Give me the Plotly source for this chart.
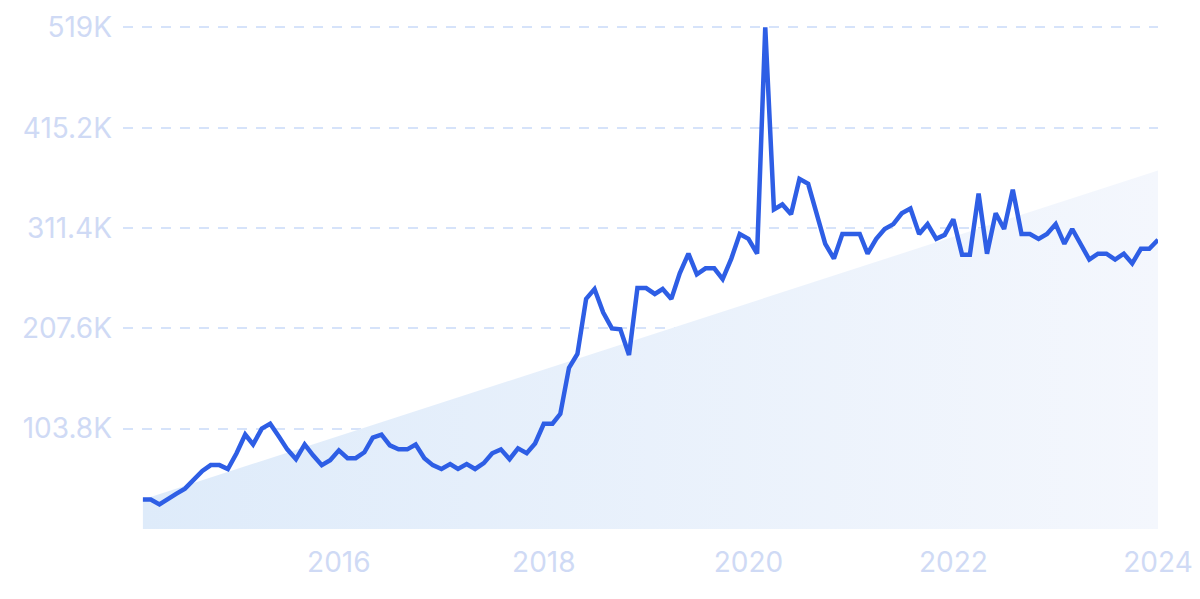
import plotly.graph_objects as go
import pandas as pd

# monthly values, Feb 2014 .. Jan 2024
months = pd.date_range("2014-02-01", "2024-01-01", freq="MS")
values = [
    30.5, 30.5, 25.4, 31.5, 36.6, 41.7, 50.9, 60.0, 66.1, 66.1, 62.1, 78.4,
    97.7, 87.5, 103.8, 108.9, 95.7, 82.4, 72.3, 87.5, 76.3, 66.1, 71.2, 81.4,
    73.3, 73.3, 79.4, 94.6, 97.7, 86.5, 82.4, 82.4, 87.5, 73.3, 66.1, 62.1,
    67.2, 62.1, 67.2, 62.1, 68.2, 78.4, 82.4, 72.3, 83.4, 78.4, 88.5, 108.9,
    108.9, 119.1, 166.9, 181.1, 238.1, 248.3, 223.9, 207.6, 206.6, 180.1, 249.3, 249.3,
    243.2, 248.3, 238.1, 264.6, 284.9, 263.6, 269.7, 269.7, 258.5, 279.8, 305.3, 300.2,
    284.9, 519.0, 330.7, 335.8, 325.6, 362.3, 357.2, 325.6, 295.1, 279.8, 305.3, 305.3,
    305.3, 284.9, 300.2, 310.4, 315.5, 326.7, 331.7, 305.3, 315.5, 300.2, 304.3, 320.5,
    283.9, 283.9, 347.0, 284.9, 326.7, 310.4, 351.1, 305.3, 305.3, 300.2, 305.3, 315.5,
    295.1, 310.4, 295.1, 278.8, 284.9, 284.9, 278.8, 284.9, 274.8, 290.0, 290.0, 299.2,
]
values = [v * 1000 for v in values]

# trend band: start and end of the shaded area
trend_dates = ["2014-02-01", "2024-01-01"]
trend_values = [30500, 371000]

y_ticks = [103800, 207600, 311400, 415200, 519000]
y_labels = ["103.8K", "207.6K", "311.4K", "415.2K", "519K"]
x_ticks = ["2016-01-01", "2018-01-01", "2020-01-01", "2022-01-01", "2024-01-01"]
x_labels = ["2016", "2018", "2020", "2022", "2024"]

label_color = "#cfdaf5"
font_family = "Inter, 'Noto Sans', sans-serif"

fig = go.Figure()

fig.add_trace(go.Scatter(
    x=trend_dates, y=trend_values,
    mode="lines", line=dict(width=0),
    fill="tozeroy",
    fillgradient=dict(
        type="horizontal",
        colorscale=[[0, "rgba(222,235,250,1)"], [1, "rgba(244,247,253,1)"]],
    ),
    hoverinfo="skip", showlegend=False,
))

fig.add_trace(go.Scatter(
    x=months, y=values,
    mode="lines",
    line=dict(color="#2e5ee5", width=4.5, shape="linear"),
    showlegend=False,
))

# page body adds an 8px margin, so the figure is sized to fit inside it
fig.update_layout(
    width=1184, height=583,
    margin=dict(l=115, r=34, t=17, b=62),
    paper_bgcolor="white",
    plot_bgcolor="white",
    font=dict(family=font_family, size=28, color=label_color),
    xaxis=dict(
        range=["2013-11-22", "2024-01-01"],
        tickvals=x_ticks, ticktext=x_labels,
        showgrid=False, zeroline=False, showline=False,
        ticks="", ticklabelstandoff=14, automargin=False,
        ticklabeloverflow="allow",
        tickfont=dict(size=28, color=label_color),
    ),
    yaxis=dict(
        range=[0, 521500],
        tickvals=y_ticks, ticktext=y_labels,
        showgrid=True, gridcolor="#d6e3fa", gridwidth=1.5,
        griddash="10px,9px",
        zeroline=False, showline=False,
        ticks="", ticklabelstandoff=10, automargin=False,
        ticklabeloverflow="allow",
        tickfont=dict(size=28, color=label_color),
    ),
)

fig.write_html("out.html")
